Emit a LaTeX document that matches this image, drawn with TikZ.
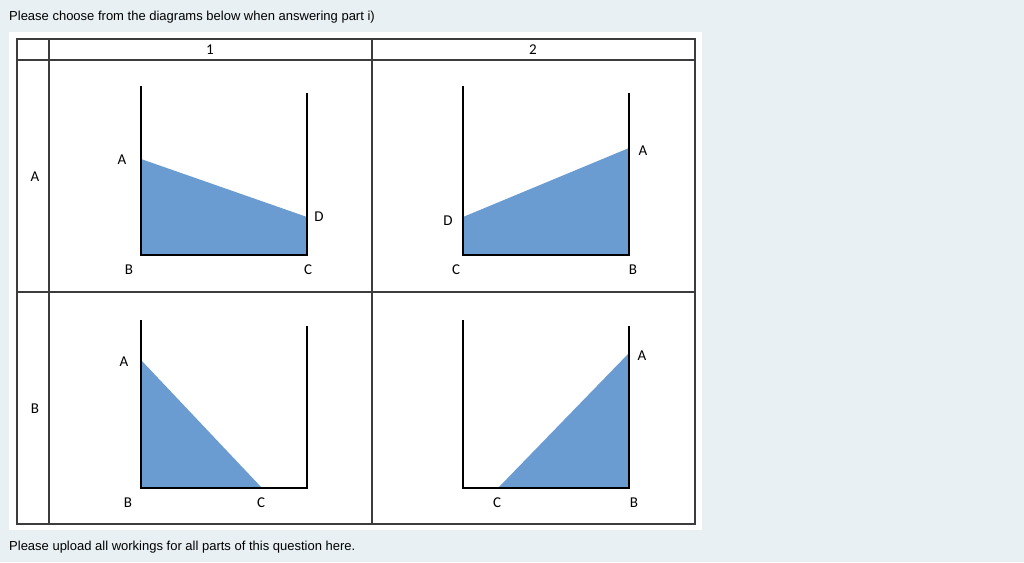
\documentclass[tikz,border=0pt]{standalone}
\usepackage{fontspec}
\setmainfont{Liberation Sans}
\newfontfamily\calib{Carlito}
\usepackage{tikz}
\usetikzlibrary{positioning}
\definecolor{pagebg}{HTML}{E8F0F3}
\definecolor{water}{HTML}{6A9BD1}
\definecolor{rule}{HTML}{3C3C3C}

\begin{document}
\begin{tikzpicture}[x=1pt,y=-1pt,
  grid/.style={draw=rule,line width=1.2pt},
  wall/.style={draw=black,line width=1.8pt},
  lab/.style={font=\calib\fontsize{15}{17}\selectfont,inner sep=0pt},
  txt/.style={font=\fontsize{13}{15}\selectfont,inner sep=0pt,anchor=base west}]
  % page and panel
  \fill[pagebg] (0,0) rectangle (1024,562);
  \useasboundingbox (0,0) rectangle (1024,562);
  \fill[white] (9,32) rectangle (702,530);
  \node[txt] (title) at (9,20) {Please choose from the diagrams below when answering part i)};
  \node[txt] (foot) at (9,550) {Please upload all workings for all parts of this question here.};

  % table
  \draw[grid] (17,39) rectangle (695,524);
  \draw[grid] (17,60) -- (695,60);
  \draw[grid] (17,292) -- (695,292);
  \draw[grid] (49,39) -- (49,524);
  \draw[grid] (372,39) -- (372,524);
  \node[lab] (h1) at (210,50) {1};
  \node[lab] (h2) at (533,50) {2};
  \node[lab] (rA) at (35,177) {A};
  \node[lab] (rB) at (35,409) {B};

  % 1A
  \fill[water] (141,159) -- (307,217) -- (307,255) -- (141,255) -- cycle;
  \draw[wall] (141,86) -- (141,255) -- (307,255) -- (307,93);
  \node[lab] (a1A) at (122,160) {A};
  \node[lab] (d1A) at (319,217) {D};
  \node[lab] (b1A) at (129,270) {B};
  \node[lab] (c1A) at (308,270) {C};

  % 2A
  \fill[water] (463,217) -- (629,148) -- (629,255) -- (463,255) -- cycle;
  \draw[wall] (463,86) -- (463,255) -- (629,255) -- (629,93);
  \node[lab] (a2A) at (643,151) {A};
  \node[lab] (d2A) at (448,221) {D};
  \node[lab] (c2A) at (456,270) {C};
  \node[lab] (b2A) at (633,270) {B};

  % 1B
  \fill[water] (141,360) -- (262,488) -- (141,488) -- cycle;
  \draw[wall] (141,320) -- (141,488) -- (307,488) -- (307,326);
  \node[lab] (a1B) at (124,362) {A};
  \node[lab] (b1B) at (128,503) {B};
  \node[lab] (c1B) at (261,503) {C};

  % 2B
  \fill[water] (498,488) -- (629,353) -- (629,488) -- cycle;
  \draw[wall] (463,320) -- (463,488) -- (629,488) -- (629,326);
  \node[lab] (a2B) at (642,356) {A};
  \node[lab] (c2B) at (497,503) {C};
  \node[lab] (b2B) at (634,503) {B};
\end{tikzpicture}
\end{document}
